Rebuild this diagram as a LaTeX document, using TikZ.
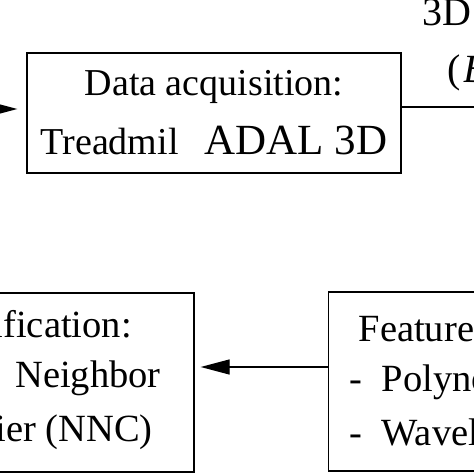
\documentclass[tikz,border=0pt]{standalone}
\usepackage{fontspec}
\setmainfont{Liberation Serif}
\usetikzlibrary{arrows.meta}

\begin{document}
\begin{tikzpicture}[
  x=1pt, y=1pt,
  block/.style={rectangle, draw, line width=1.3pt, align=center, inner sep=0pt, font=\fontsize{38.5}{50}\selectfont},
  caption/.style={anchor=base west, inner sep=0pt, font=\fontsize{40}{40}\selectfont},
  arrow/.style={line width=1.3pt, -{Triangle[length=29pt, width=15pt]}, shorten >=6pt},
  link/.style={line width=1.3pt}
  ]
  \useasboundingbox (0,0) rectangle (474,474);
  \clip (0,0) rectangle (474,474);

  % Top row: acquisition block
  \node[block, minimum width=374pt, minimum height=120pt, font=\fontsize{38}{59}\selectfont] (acq) at (214,361)
    {Data acquisition:\\Treadmil\hspace{26pt}{\fontsize{43}{43}\selectfont ADAL 3D}};
  \coordinate (src) at ([yshift=4pt]acq.west);
  \coordinate (srcfar) at ([xshift=-80pt]src);
  \coordinate (out) at ([yshift=6pt]acq.east);
  \coordinate (outfar) at ([xshift=90pt]out);

  % Label of the outgoing line
  \node[caption] (tdtop) at (422,448) {3D};
  \node[caption] (tdsub) at (447,391) {(\hspace{3pt}\textit{B}};

  % Bottom row: classification and feature blocks
  \node[block, minimum width=347pt, minimum height=179pt] (cls) at (20.5,91.5)
    {Classification:\\Nearest\hspace{0.45em}Neighbor\\[4pt]Classifier (NNC)\rule[-14pt]{0pt}{1pt}};
  \node[block, anchor=west, align=left, text width=360pt, inner xsep=21pt, minimum height=179pt] (feat) at (328,92.5)
    {\hspace*{9pt}Feature extraction:\\-\hspace{0.5em}Polynomial\\[4pt]-\hspace{0.5em}Wavelet};

  % Connectors
  \draw[arrow, shorten >=9pt] (srcfar) -- (src);
  \draw[link] (out) -- (outfar);
  \draw[arrow] ([yshift=14.5pt]feat.west) -- ([yshift=15.5pt]cls.east);

\end{tikzpicture}
\end{document}
